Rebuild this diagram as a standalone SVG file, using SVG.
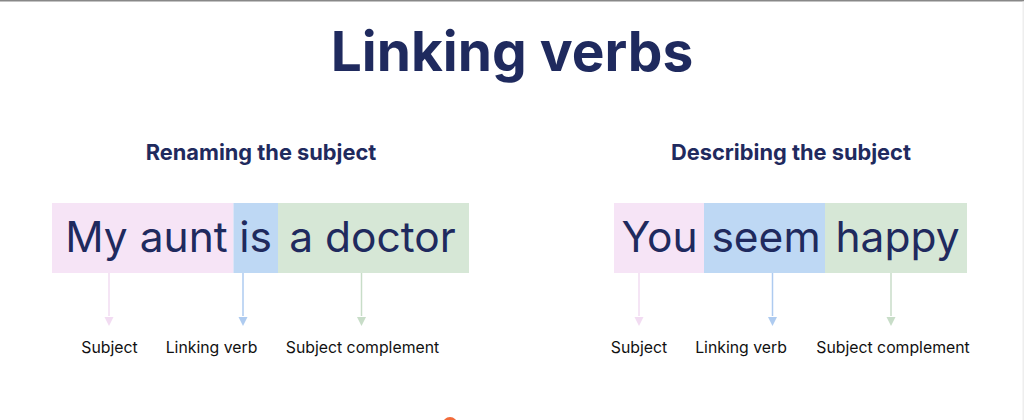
<svg xmlns="http://www.w3.org/2000/svg" width="1024" height="420" viewBox="0 0 1024 420">
  <style>
    .title { font-family: Inter, "Liberation Sans", sans-serif; font-weight: 700; font-size: 55px; fill: #1F2A5E; }
    .sub { font-family: Inter, "Liberation Sans", sans-serif; font-weight: 700; font-size: 21.8px; fill: #1F2A5E; }
    .word { font-family: Inter, "Liberation Sans", sans-serif; font-weight: 400; font-size: 42.5px; fill: #1F2A5E; }
    .lbl { font-family: Inter, "Liberation Sans", sans-serif; font-weight: 400; font-size: 15.8px; fill: #111111; }
    .pink { fill: #F6E4F6; }
    .blue { fill: #BED8F4; }
    .green { fill: #D6E7D6; }
    .apink { stroke: #F2DCF2; stroke-width: 1.5; fill: none; }
    .ablue { stroke: #AECBF0; stroke-width: 1.5; fill: none; }
    .agreen { stroke: #C8DDC8; stroke-width: 1.5; fill: none; }
  </style>
  <rect x="0" y="0" width="1024" height="420" fill="#FFFFFF"/>
  <rect x="0" y="0" width="1024" height="1.5" fill="#888888"/>
  <rect x="1022.5" y="1.5" width="1.5" height="418.5" fill="#EEEEEE"/>

  <text class="title" x="512" y="71" text-anchor="middle">Linking verbs</text>

  <g id="left-heading"><text class="sub" x="261" y="160" text-anchor="middle">Renaming the subject</text></g>
  <g id="right-heading"><text class="sub" x="791" y="160" text-anchor="middle">Describing the subject</text></g>

  <g id="l-subject">
    <rect class="pink" x="52" y="203" width="181.5" height="70"/>
    <text class="word" x="146.5" y="252" text-anchor="middle">My aunt</text>
  </g>
  <g id="l-verb">
    <rect class="blue" x="233.5" y="203" width="44.5" height="70"/>
    <text class="word" x="255.5" y="252" text-anchor="middle">is</text>
  </g>
  <g id="l-complement">
    <rect class="green" x="278" y="203" width="191" height="70"/>
    <text class="word" x="372.5" y="252" text-anchor="middle">a doctor</text>
  </g>

  <g id="r-subject">
    <rect class="pink" x="614" y="203" width="90" height="70"/>
    <text class="word" x="659.5" y="252" text-anchor="middle">You</text>
  </g>
  <g id="r-verb">
    <rect class="blue" x="704" y="203" width="121" height="70"/>
    <text class="word" x="766" y="252" text-anchor="middle">seem</text>
  </g>
  <g id="r-complement">
    <rect class="green" x="825" y="203" width="142" height="70"/>
    <text class="word" x="897.5" y="252" text-anchor="middle">happy</text>
  </g>

  <g id="connectors">
    <line class="apink" x1="109" y1="273" x2="109" y2="316"/>
    <path d="M104.5,317 L113.5,317 L109,326 Z" fill="#F2DCF2"/>
    <line class="ablue" x1="243" y1="273" x2="243" y2="316"/>
    <path d="M238.5,317 L247.5,317 L243,326 Z" fill="#AECBF0"/>
    <line class="agreen" x1="361.5" y1="273" x2="361.5" y2="316"/>
    <path d="M357,317 L366,317 L361.5,326 Z" fill="#C8DDC8"/>
    <line class="apink" x1="639" y1="273" x2="639" y2="316"/>
    <path d="M634.5,317 L643.5,317 L639,326 Z" fill="#F2DCF2"/>
    <line class="ablue" x1="772.5" y1="273" x2="772.5" y2="316"/>
    <path d="M768,317 L777,317 L772.5,326 Z" fill="#AECBF0"/>
    <line class="agreen" x1="891" y1="273" x2="891" y2="316"/>
    <path d="M886.5,317 L895.5,317 L891,326 Z" fill="#C8DDC8"/>
  </g>

  <g id="l-labels">
    <text class="lbl" x="109.5" y="353" text-anchor="middle">Subject</text>
    <text class="lbl" x="211.5" y="353" text-anchor="middle">Linking verb</text>
    <text class="lbl" x="362.5" y="353" text-anchor="middle">Subject complement</text>
  </g>
  <g id="r-labels">
    <text class="lbl" x="639" y="353" text-anchor="middle">Subject</text>
    <text class="lbl" x="741" y="353" text-anchor="middle">Linking verb</text>
    <text class="lbl" x="893" y="353" text-anchor="middle">Subject complement</text>
  </g>

  <circle cx="450" cy="424.5" r="7.5" fill="#F26B3A"/>
</svg>
